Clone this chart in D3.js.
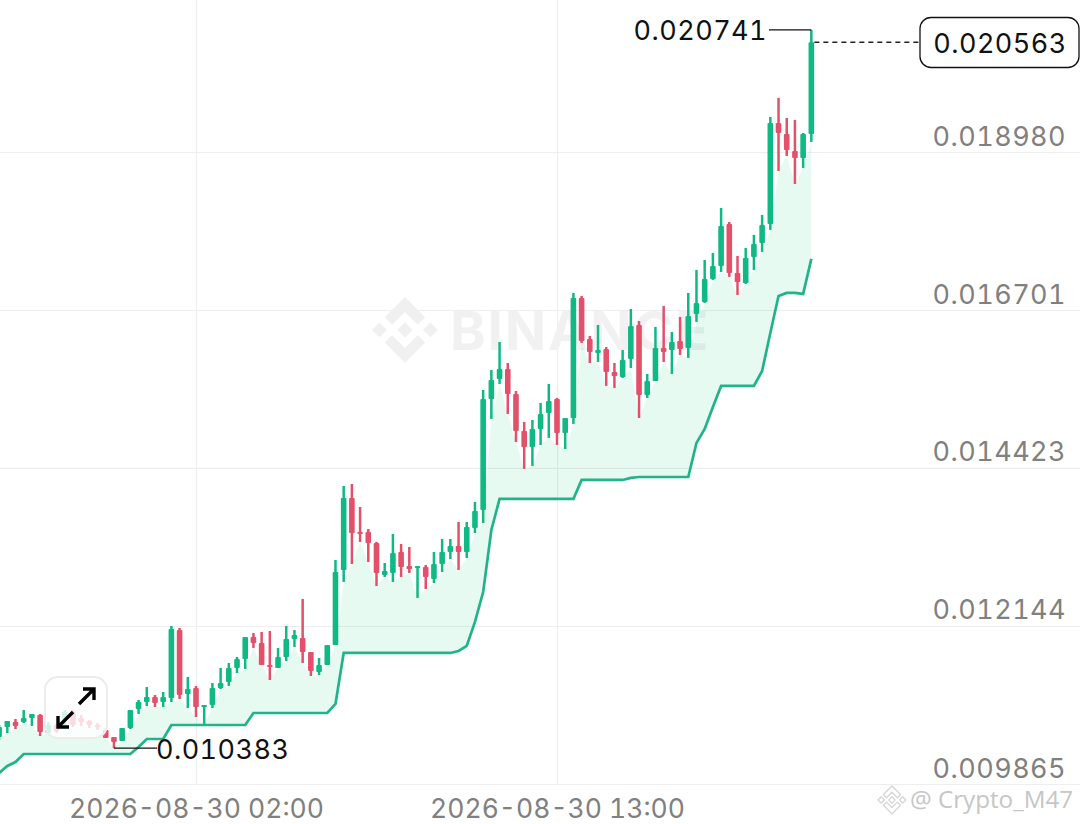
<!DOCTYPE html>
<html><head><meta charset="utf-8">
<script src="https://cdn.jsdelivr.net/npm/d3@7"></script>
<style>html,body{margin:0;padding:0;background:#fff}svg{display:block}text{font-family:Inter,sans-serif}.n{font-variant-numeric:tabular-nums;letter-spacing:.45px}.m{font-variant-numeric:tabular-nums;letter-spacing:0}</style>
</head><body><svg id="c" width="1080" height="824"></svg>
<script>
// Prices are in millionths (18980 = 0.018980). Candles are 15-minute bars.
const firstIndex = -24; // bars relative to 2026-08-30 02:00 UTC
const opens = [10543,10687,10759,10759,10817,10860,10601,10716,10788,10904,10817,10774,10716,10644,10543,10485,10673,10947,11048,11120,11048,11105,12086,11163,11250,10976,11004,11250,11336,11538,11668,11985,11899,11581,11538,11697,11956,11971,11769,11480,11581,11870,12952,13990,13500,13500,13341,12880,12908,13211,13009,12981,12995,12822,13038,13211,13298,13211,13558,13817,15418,15707,15851,15490,14957,14726,14986,15216,15418,14928,15144,16875,16284,16082,16139,15808,15736,15995,16486,15476,15678,16154,16125,16255,16154,16644,16817,17149,17337,17942,17236,17091,17466,17668,17942,19399,19241,18995,18894,19241];
const highs = [10716,10774,10803,10932,10875,10875,10759,10730,10932,10932,10860,10788,10745,10673,10543,10673,10932,11077,11264,11149,11192,12144,12115,11408,11279,11004,11322,11538,11610,11697,11985,12043,12057,12072,11827,12144,12086,12533,11769,11682,11870,13096,14163,14192,13860,13543,13356,13053,13471,13327,13283,13009,13024,13211,13399,13399,13644,13644,13933,15548,15837,16240,15937,15534,15086,15115,15361,15635,15433,15144,16947,16904,16327,16486,16168,15937,16125,16716,16543,15779,16457,16760,16385,16601,16947,17279,17423,17524,18173,17971,17481,17596,17784,18072,19486,19760,19471,19443,19255,20741];
const lows = [10500,10601,10658,10745,10702,10557,10601,10601,10687,10687,10702,10673,10644,10529,10383,10485,10658,10875,10990,10976,10976,11048,11091,10961,10831,10716,10961,11235,11279,11466,11524,11827,11581,11365,11538,11639,11841,11610,11423,11437,11581,11870,12779,13038,13356,13067,12721,12851,12779,12851,12908,12548,12678,12764,12923,13110,12952,13125,13485,13630,15130,15635,15202,14798,14409,14452,14755,14856,14755,14697,15058,16226,15937,15952,15606,15577,15721,15865,15144,15433,15678,15952,15779,16053,16010,16529,16803,17135,17250,17178,16918,17077,17279,17539,17856,18707,18923,18519,18750,19125];
const closes = [10687,10774,10702,10817,10875,10615,10716,10629,10904,10716,10759,10716,10687,10529,10471,10673,10932,11048,11120,11033,11120,12101,11149,11235,10976,11004,11250,11322,11538,11668,11985,11899,11581,11553,11697,11956,12014,11769,11495,11581,11870,12923,13990,13485,13471,13341,12908,12937,13197,12995,12966,13009,12851,13038,13211,13298,13211,13572,13803,15418,15692,15851,15490,14957,14726,14986,15202,15389,14928,15144,16875,16255,16096,16125,15808,15750,15981,16471,15476,15678,16154,16096,16240,16139,16615,16803,17149,17337,17914,17236,17106,17452,17654,17928,19399,19255,19010,18894,19241,20563];
const trail = [10024,10125,10182,10298,10298,10298,10298,10298,10298,10298,10298,10298,10298,10298,10298,10298,10298,10399,10514,10514,10514,10716,10716,10716,10716,10716,10716,10716,10716,10716,10716,10889,10889,10889,10889,10889,10889,10889,10889,10889,10889,11019,11755,11755,11755,11755,11755,11755,11755,11755,11755,11755,11755,11755,11755,11755,11783,11856,12202,12634,13529,13976,13976,13976,13976,13976,13976,13976,13976,13976,13976,14250,14250,14250,14250,14250,14250,14279,14293,14293,14293,14293,14293,14293,14293,14784,14986,15303,15606,15606,15606,15606,15606,15822,16370,16904,16947,16947,16933,17438];
const priceTicks = [9865,12144,14423,16701,18980];
const timeTicks = ["2026-08-30T02:00:00Z","2026-08-30T13:00:00Z"];
const highLabel = 20741, lowLabel = 10383, lastPrice = 20563;

const fmtP = v => (v/1e6).toFixed(6);
const fmtT = d3.utcFormat("%Y-%m-%d %H:%M");
const t0 = new Date(timeTicks[0]), t1 = new Date(timeTicks[1]);
const bars = opens.map((o,i)=>({t:d3.utcMinute.offset(t0,15*(firstIndex+i)),o,h:highs[i],l:lows[i],c:closes[i],s:trail[i]}));

const x = d3.scaleUtc().domain([t0,t1]).range([196,557]);
const y = d3.scaleLinear().domain([9865,18980]).range([784,152]);
const svg = d3.select("#c");
const GRID="#eeeeee", GREY="#808080", GREEN="#0fb983", RED="#e2506a", LINE="#22b38a";

// axes & grid
const ax = svg.append("g").call(d3.axisRight(y).tickValues(priceTicks).tickFormat(fmtP).tickSize(1080));
const bx = svg.append("g").attr("transform","translate(0,784)").call(d3.axisBottom(x).tickValues([t0,t1]).tickFormat(fmtT).tickSize(-784));
[ax,bx].forEach(g=>{g.select(".domain").remove();g.selectAll("line").attr("stroke",GRID).attr("stroke-width",1.2);
  g.selectAll("text").attr("fill",GREY).style("font-family","Inter,sans-serif");});
ax.selectAll("text").attr("class","n").attr("font-size",27).attr("x",1066).attr("dy",0).attr("y",-7).attr("text-anchor","end");
bx.selectAll("text").attr("class","m").attr("font-size",26.5).attr("dy",0).attr("y",33.5);

// watermarks
const logo="M38.73 53.2l24.59-24.58 24.6 24.6 14.3-14.31L63.32 0l-38.9 38.9zM0 63.31l14.3-14.31 14.31 14.31-14.31 14.3zM38.73 73.41l24.59 24.59 24.6-24.6 14.31 14.29-38.9 38.91-38.91-38.88v-.02zM98 63.31L112.3 49l14.31 14.3-14.31 14.32zM77.83 63.3L63.32 48.78 52.59 59.51l-1.24 1.23-2.54 2.54 14.51 14.5 14.51-14.47z";
svg.append("path").attr("d",logo).attr("transform","translate(372,297) scale(.52)").attr("fill","#f0f0f0");
svg.append("text").attr("x",450).attr("y",350).attr("font-size",54).attr("font-weight",700).attr("fill","#f1f1f1").attr("letter-spacing",2).text("BINANCE");
svg.append("path").attr("d",logo).attr("transform","translate(878,786) scale(.22)").attr("fill","none").attr("stroke","#d6d6d6").attr("stroke-width",6);
svg.append("text").attr("x",910).attr("y",808).attr("font-size",24.2).attr("fill","#c6c6c6").style("font-family","'Open Sans',sans-serif").text("@ Crypto_M47");

// band
svg.append("path").datum(bars).attr("fill","rgba(14,203,129,.1)")
  .attr("d",d3.area().x(d=>x(d.t)).y0(d=>y(d.s)).y1(d=>y(d.l)));
svg.append("path").datum(bars).attr("fill","none").attr("stroke",LINE).attr("stroke-width",2.7)
  .attr("d",d3.line().x(d=>x(d.t)).y(d=>y(d.s)));

// candles
const cg = svg.append("g").selectAll("g").data(bars).join("g");
const col = d=>d.c>=d.o?GREEN:RED;
cg.append("line").attr("x1",d=>x(d.t)).attr("x2",d=>x(d.t)).attr("y1",d=>y(d.h)).attr("y2",d=>y(d.l)).attr("stroke",col).attr("stroke-width",2.5);
cg.append("rect").attr("x",d=>x(d.t)-2.8).attr("width",5.6).attr("rx",1)
  .attr("y",d=>y(Math.max(d.o,d.c))).attr("height",d=>Math.max(2,Math.abs(y(d.o)-y(d.c)))).attr("fill",col);

// high / low / last markers
const hiX = x(bars[bars.length-1].t), loBar = bars.find(b=>b.l===lowLabel);
svg.append("path").attr("d",`M${hiX},${y(highLabel)}H769`).attr("stroke","#111").attr("stroke-width",1.3).attr("fill","none");
svg.append("text").attr("class","n").attr("x",767).attr("y",y(highLabel)+10).attr("text-anchor","end").attr("font-size",27).attr("fill","#111").text(fmtP(highLabel));
svg.append("path").attr("d",`M${x(loBar.t)},${y(lowLabel)}H157`).attr("stroke","#111").attr("stroke-width",1.3).attr("fill","none");
svg.append("text").attr("class","n").attr("x",156).attr("y",y(lowLabel)+10.5).attr("font-size",27).attr("fill","#111").text(fmtP(lowLabel));
svg.append("line").attr("x1",hiX+3).attr("x2",920).attr("y1",y(lastPrice)).attr("y2",y(lastPrice)).attr("stroke","#222").attr("stroke-width",1.3).attr("stroke-dasharray","5 4");
svg.append("rect").attr("x",920).attr("y",17.5).attr("width",159).attr("height",50).attr("rx",11).attr("fill","#fff").attr("stroke","#111").attr("stroke-width",1.3);
svg.append("text").attr("class","n").attr("x",1000).attr("y",53).attr("text-anchor","middle").attr("font-size",27).attr("fill","#111").text(fmtP(lastPrice));

// expand button
svg.append("rect").attr("x",45).attr("y",677).attr("width",62).attr("height",61).attr("rx",13).attr("fill","rgba(255,255,255,.8)").attr("stroke","#ececec").attr("stroke-width",2);
const ic = svg.append("g").attr("fill","none").attr("stroke","#000").attr("stroke-width",3.4);
ic.append("path").attr("d","M73,712L58,727M58,716V727H69");
ic.append("path").attr("d","M79,704L94,689M83,689H94V700");
</script></body></html>
